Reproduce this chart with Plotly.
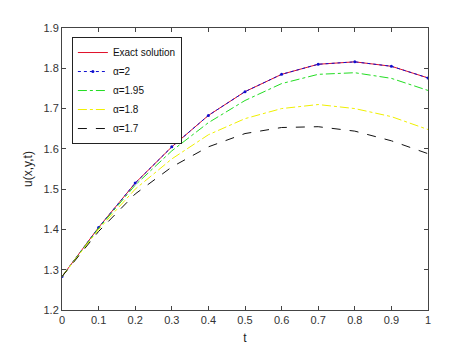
import plotly.graph_objects as go

t = [0, 0.1, 0.2, 0.3, 0.4, 0.5, 0.6, 0.7, 0.8, 0.9, 1.0]
exact = [1.283, 1.405, 1.515, 1.605, 1.683, 1.742, 1.785, 1.810, 1.816, 1.805, 1.776]
a2 = [1.283, 1.405, 1.515, 1.605, 1.683, 1.742, 1.785, 1.810, 1.816, 1.805, 1.776]
a195 = [1.283, 1.403, 1.51, 1.595, 1.665, 1.72, 1.762, 1.785, 1.789, 1.775, 1.745]
a18 = [1.283, 1.40, 1.50, 1.575, 1.635, 1.675, 1.700, 1.710, 1.700, 1.680, 1.648]
a17 = [1.283, 1.395, 1.488, 1.555, 1.605, 1.638, 1.653, 1.655, 1.644, 1.620, 1.588]

names = ["Exact solution", "α=2", "α=1.95", "α=1.8", "α=1.7"]

fig = go.Figure()
fig.add_trace(go.Scatter(x=t, y=exact, mode="lines", name=names[0],
                         line=dict(color="#e0102a", width=1)))
fig.add_trace(go.Scatter(x=t, y=a2, mode="lines+markers", name=names[1],
                         line=dict(color="#1010d0", width=1, dash="dot"),
                         marker=dict(size=3, color="#1010d0")))
fig.add_trace(go.Scatter(x=t, y=a195, mode="lines", name=names[2],
                         line=dict(color="#22dd22", width=1, dash="dashdot")))
fig.add_trace(go.Scatter(x=t, y=a18, mode="lines", name=names[3],
                         line=dict(color="#f0f000", width=1, dash="dashdot")))
fig.add_trace(go.Scatter(x=t, y=a17, mode="lines", name=names[4],
                         line=dict(color="#111111", width=1, dash="dash")))

axis_common = dict(showgrid=False, zeroline=False, showline=True, linecolor="#444",
                   linewidth=1, mirror="ticks", ticks="inside", ticklen=4,
                   tickcolor="#444", tickfont=dict(family="Liberation Sans, Arial", size=11, color="#333"))

fig.update_layout(
    width=466, height=347,
    margin=dict(l=54, r=46, t=20, b=38),
    paper_bgcolor="white", plot_bgcolor="white",
    font=dict(family="Liberation Sans, Arial", size=11, color="#222"),
    xaxis=dict(range=[0, 1], tickvals=[0, 0.1, 0.2, 0.3, 0.4, 0.5, 0.6, 0.7, 0.8, 0.9, 1],
               ticktext=["0", "0.1", "0.2", "0.3", "0.4", "0.5", "0.6", "0.7", "0.8", "0.9", "1"],
               title=dict(text="t", font=dict(size=12), standoff=8), **axis_common),
    yaxis=dict(range=[1.2, 1.9], tickvals=[1.2, 1.3, 1.4, 1.5, 1.6, 1.7, 1.8, 1.9],
               ticktext=["1.2", "1.3", "1.4", "1.5", "1.6", "1.7", "1.8", "1.9"],
               title=dict(text="u(x,y,t)", font=dict(size=12), standoff=8), **axis_common),
    legend=dict(x=0.027, y=0.968, xanchor="left", yanchor="top",
                bordercolor="#222", borderwidth=1, bgcolor="white",
                font=dict(size=10, color="#111"), tracegroupgap=0,
                itemwidth=30),
    showlegend=True,
)

fig.write_html("out.html")
